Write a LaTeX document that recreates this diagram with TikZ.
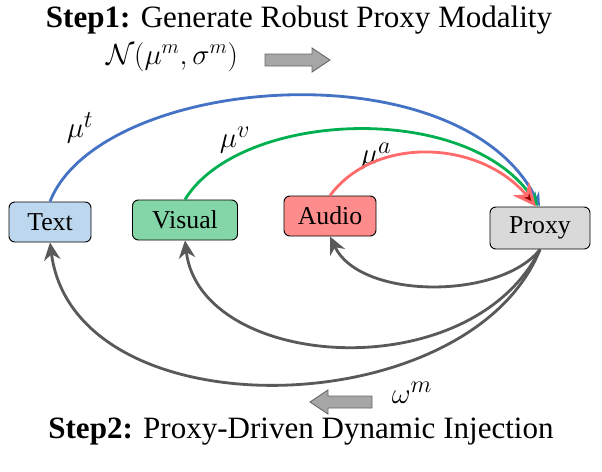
\documentclass[tikz,border=0pt]{standalone}
\usepackage{fontspec}
\setmainfont{Liberation Serif}
\usetikzlibrary{arrows.meta}
\definecolor{tb}{HTML}{BDD7EE}
\definecolor{vg}{HTML}{84D6A8}
\definecolor{ar}{HTML}{FF8C8C}
\definecolor{pg}{HTML}{D9D9D9}
\definecolor{bl}{HTML}{4472C4}
\definecolor{gr}{HTML}{00B050}
\definecolor{rd}{HTML}{FF6B6B}
\begin{document}
\begin{tikzpicture}[x=0.03cm,y=-0.03cm,
 box/.style={draw=black,thick,rounded corners=5pt,font=\fontsize{22}{24}\selectfont,inner sep=0pt},
 conn/.style={line width=2.4pt},
 back/.style={line width=2.4pt,draw=black!65,-{Stealth[length=15pt,width=14pt]}},
 head/.style={font=\fontsize{26.5}{28}\selectfont},
 lab/.style={font=\fontsize{30}{32}\selectfont}]
\useasboundingbox (0,0) rectangle (602,472);
\node[box,fill=tb,minimum width=82*0.03cm,minimum height=40*0.03cm] (t) at (50,222) {Text};
\node[box,fill=vg,minimum width=105*0.03cm,minimum height=40*0.03cm] (v) at (185,220) {Visual};
\node[box,fill=ar,minimum width=92*0.03cm,minimum height=40*0.03cm] (a) at (330,216) {Audio};
\node[box,fill=pg,minimum width=100*0.03cm,minimum height=42*0.03cm] (p) at (540,228) {Proxy};
\node[head] (s1) at (299,20) {\textbf{Step1:} Generate Robust Proxy Modality};
\node[font=\fontsize{27}{29}\selectfont] (n) at (172,57) {$\mathcal{N}(\mu^m,\sigma^m)$};
\draw[black!60,fill=black!35,thick] (265,54) -- (312,54) -- (312,48) -- (330,60) -- (312,72) -- (312,66) -- (265,66) -- cycle;
\node[head] (s2) at (301,432) {\textbf{Step2:} Proxy-Driven Dynamic Injection};
\draw[black!60,fill=black!35,thick] (372,396) -- (328,396) -- (328,390) -- (310,402) -- (328,414) -- (328,408) -- (372,408) -- cycle;
\node[lab] (w) at (412,393) {$\omega^m$};
\node[lab] (mt) at (80,128) {$\mu^t$};
\node[lab] (mv) at (235,140) {$\mu^v$};
\node[lab] (ma) at (376,156) {$\mu^a$};
\draw[conn,draw=bl,-{Stealth[length=12pt,width=10pt]}] (t.north) .. controls (100,75) and (460,45) .. (p.north);
\draw[conn,draw=gr,-{Stealth[length=12pt,width=10pt]}] (v.north) .. controls (240,110) and (470,100) .. ([xshift=-2*0.03cm]p.north);
\draw[conn,draw=rd,-{Stealth[length=20pt,width=18pt,fill=red!60!black]}] (a.north) .. controls (375,135) and (480,140) .. ([xshift=-4*0.03cm]p.north);
\draw[back] (p.south) .. controls (500,300) and (360,300) .. (a.south);
\draw[back] (p.south) .. controls (470,390) and (200,370) .. (v.south);
\draw[back] (p.south) .. controls (470,425) and (75,435) .. (t.south);
\end{tikzpicture}
\end{document}
